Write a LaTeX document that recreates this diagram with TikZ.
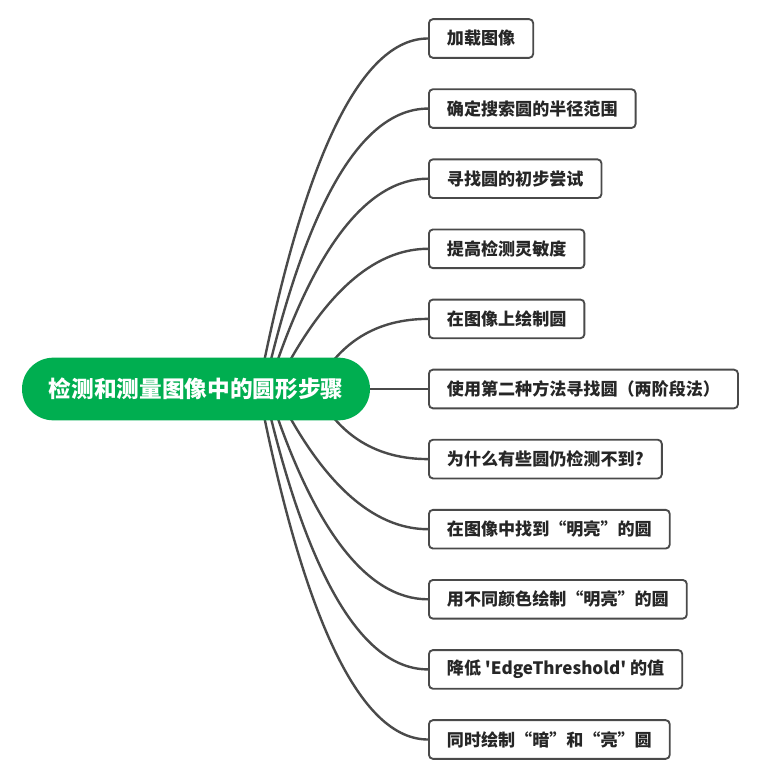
\documentclass[tikz,border=0pt]{standalone}
\usepackage{fontspec}
\setmainfont{Noto Sans CJK SC}[Ligatures=TeXOff]
\usetikzlibrary{calc,backgrounds}
\definecolor{jade}{RGB}{0, 174, 80}
\definecolor{graphite}{RGB}{74, 74, 74}
\definecolor{ink}{RGB}{38, 38, 38}

\begin{document}
\begin{tikzpicture}[x=0.75pt, y=-0.75pt,
    stepbox/.style={draw=graphite, line width=1.4pt, rounded corners=3pt, fill=white, text=ink,
                    font=\fontsize{12.8}{15}\selectfont\bfseries, inner xsep=13.5pt, minimum height=29pt, anchor=west},
    link/.style={draw=graphite, line width=1.8pt}]
            \useasboundingbox (0, 0) rectangle (784, 773);
            \node[fill=jade, text=white, rounded corners=23.5pt, minimum width=261pt, minimum height=47pt,
                  font=\fontsize{17}{20}\selectfont\bfseries] (root) at (196, 389) {检测和测量图像中的圆形步骤};
            \node[stepbox] (b1)  at (428,  38.5) {加载图像};
            \node[stepbox] (b2)  at (428, 108.6) {确定搜索圆的半径范围};
            \node[stepbox] (b3)  at (428, 178.7) {寻找圆的初步尝试};
            \node[stepbox] (b4)  at (428, 248.8) {提高检测灵敏度};
            \node[stepbox] (b5)  at (428, 318.9) {在图像上绘制圆};
            \node[stepbox] (b6)  at (428, 389.0) {使用第二种方法寻找圆（两阶段法）};
            \node[stepbox] (b7)  at (428, 459.1) {为什么有些圆仍检测不到?};
            \node[stepbox] (b8)  at (428, 529.2) {在图像中找到“明亮”的圆};
            \node[stepbox] (b9)  at (428, 599.3) {用不同颜色绘制“明亮”的圆};
            \node[stepbox] (b10) at (428, 669.4) {降低 'EdgeThreshold' 的值};
            \node[stepbox] (b11) at (428, 739.5) {同时绘制“暗”和“亮”圆};
            % curved links, they start behind the root
            \begin{scope}[on background layer]
            \draw[link] ($(root.center)+( 62.6,0)$) .. controls +(45.6,-233.7) and +(-66.7,0) .. (b1.west);
            \draw[link] ($(root.center)+( 68.0,0)$) .. controls +(42.7,-186.9) and +(-66.0,0) .. (b2.west);
            \draw[link] ($(root.center)+( 72.0,0)$) .. controls +(44.7,-140.2) and +(-61.3,0) .. (b3.west);
            \draw[link] ($(root.center)+( 79.0,0)$) .. controls +(46.0, -93.5) and +(-55.3,0) .. (b4.west);
            \draw[link] ($(root.center)+(119.0,0)$) .. controls +(23.3, -46.7) and +(-51.3,0) .. (b5.west);
            \draw[link] (root) -- (b6.west);
            \draw[link] ($(root.center)+(119.0,0)$) .. controls +(23.3,  46.7) and +(-51.3,0) .. (b7.west);
            \draw[link] ($(root.center)+( 79.0,0)$) .. controls +(46.0,  93.5) and +(-55.3,0) .. (b8.west);
            \draw[link] ($(root.center)+( 72.0,0)$) .. controls +(44.7, 140.2) and +(-61.3,0) .. (b9.west);
            \draw[link] ($(root.center)+( 68.0,0)$) .. controls +(42.7, 186.9) and +(-66.0,0) .. (b10.west);
            \draw[link] ($(root.center)+( 62.6,0)$) .. controls +(45.6, 233.7) and +(-66.7,0) .. (b11.west);
            \end{scope}
\end{tikzpicture}
\end{document}
